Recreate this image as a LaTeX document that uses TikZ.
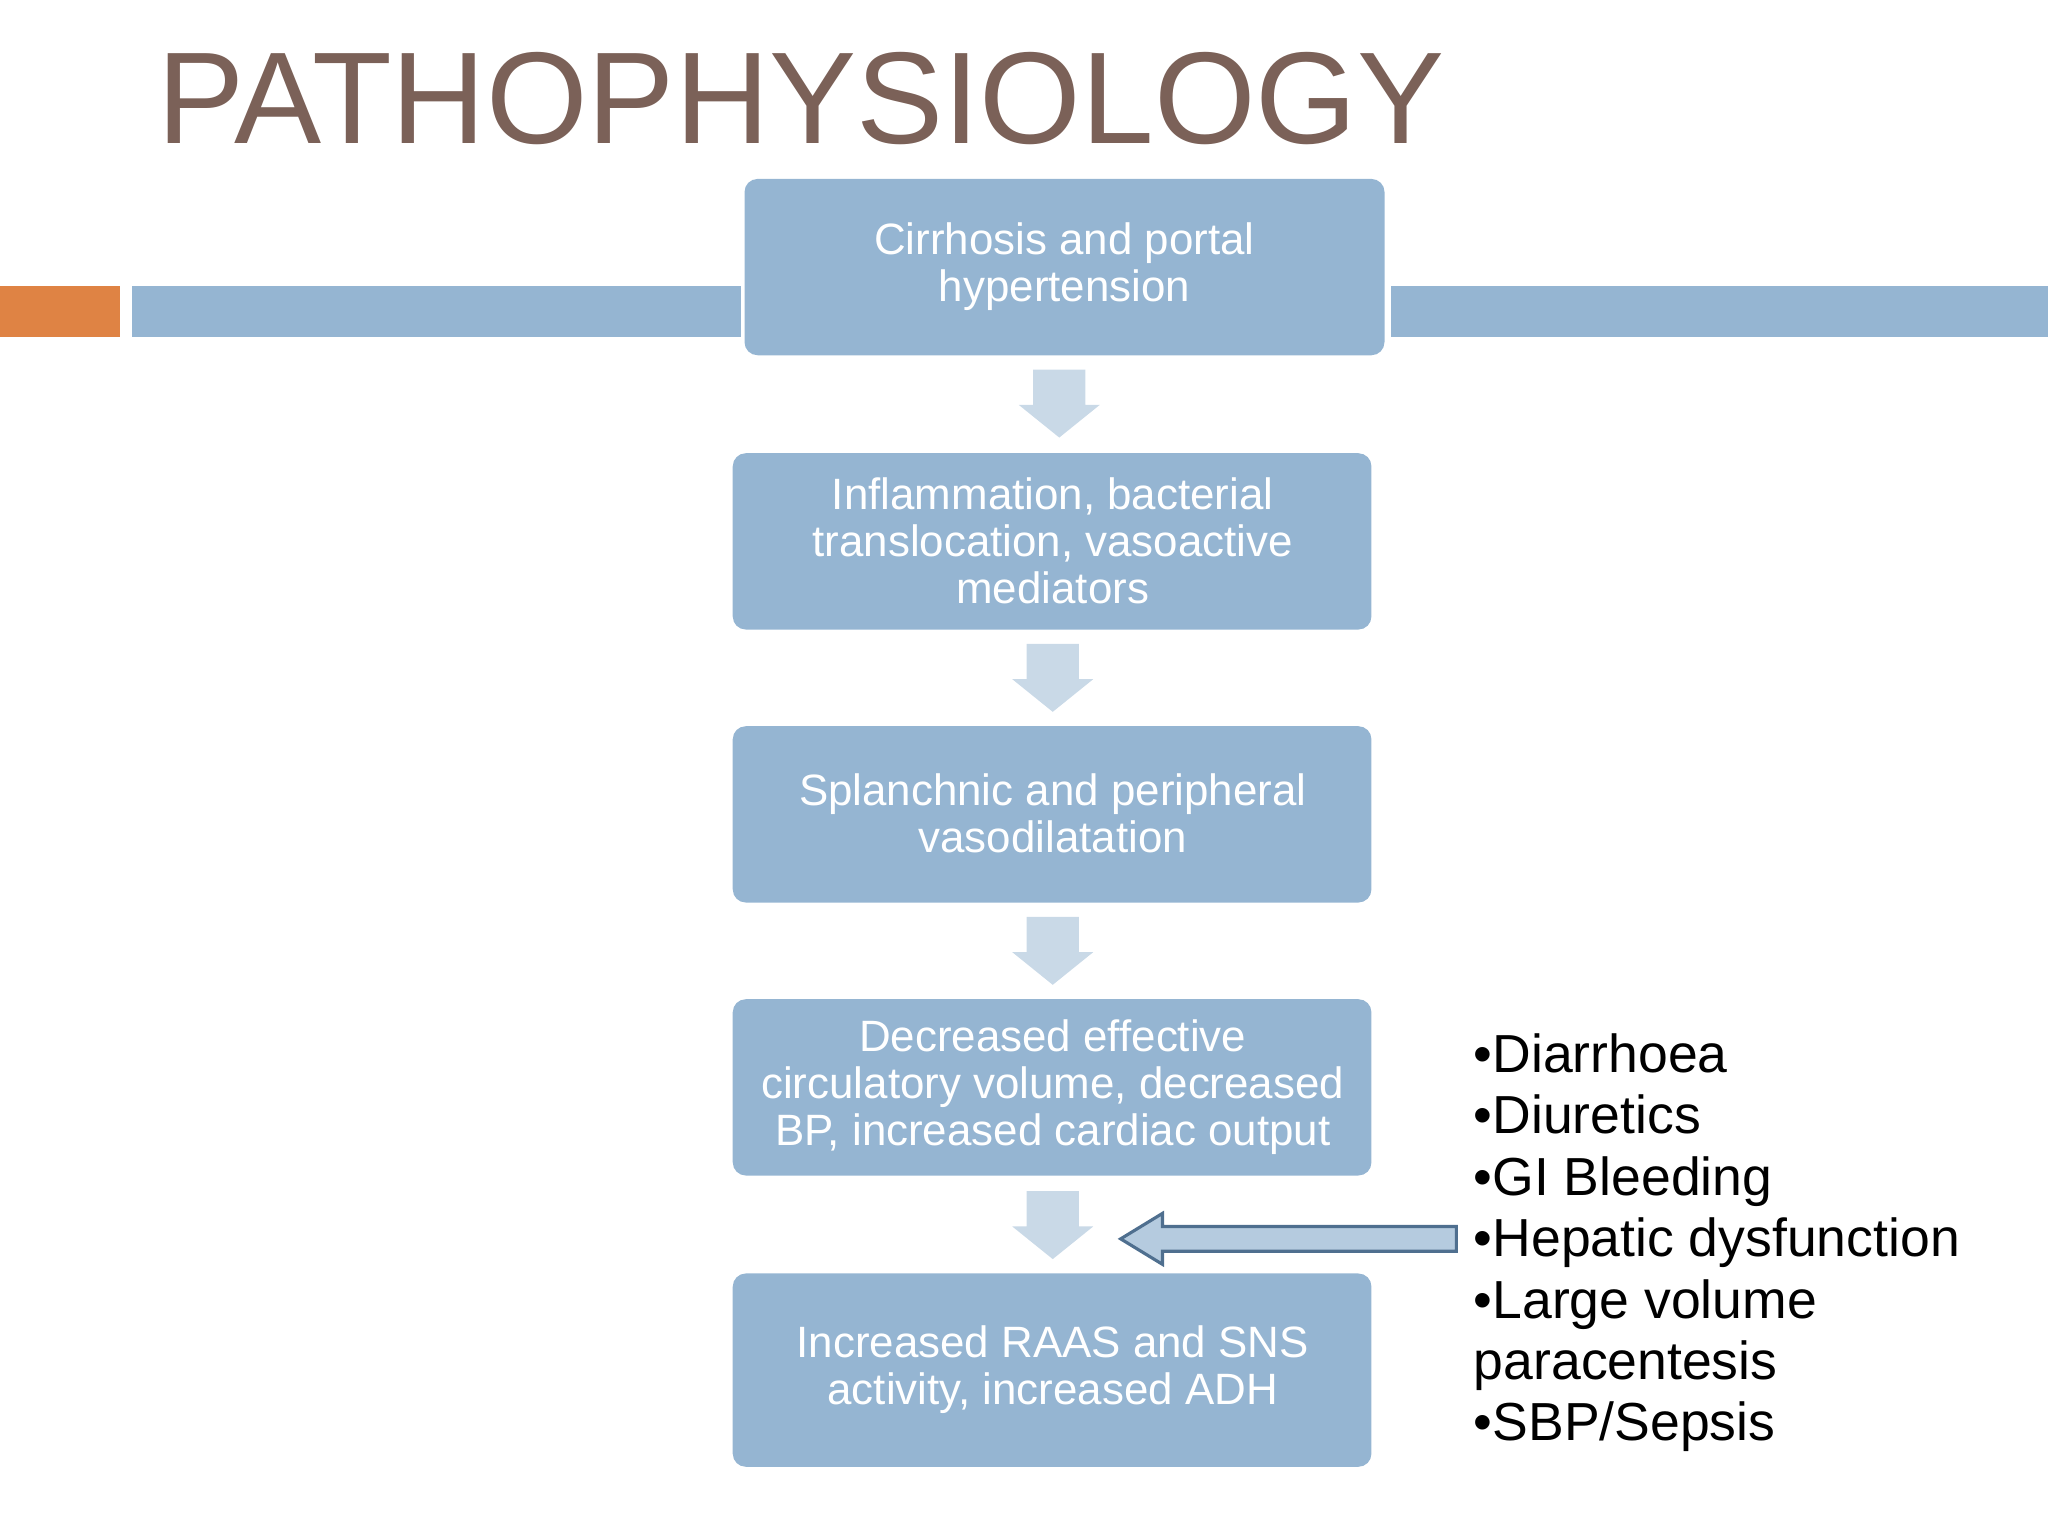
\documentclass[tikz,border=0pt]{standalone}
\usepackage{fontspec}
\setmainfont{Liberation Sans}
\definecolor{boxblue}{HTML}{95B5D2}
\definecolor{arrlight}{HTML}{C9D9E7}
\definecolor{arrdark}{HTML}{4F6F8F}
\definecolor{titlebrown}{HTML}{7B6158}
\definecolor{bandorange}{HTML}{DF8344}
\begin{document}
\begin{tikzpicture}[x=0.5pt,y=-0.5pt,
  flowbox/.style={fill=boxblue,rounded corners=5pt,text=white,font=\fontsize{16.8}{18}\selectfont,align=center,inner sep=0pt},
  downarr/.style={fill=arrlight,draw=none}]
\useasboundingbox (0,0) rectangle (1568,1176);
\node[anchor=base west,text=titlebrown,font=\fontsize{50}{50}\selectfont,inner sep=0pt] (title) at (120,110) {PATHOPHYSIOLOGY};
\fill[bandorange] (0,219) rectangle (92,258);
\fill[boxblue] (101,219) rectangle (567,258);
\fill[boxblue] (1065,219) rectangle (1568,258);
\path[flowbox] (570,137) rectangle (1060,272);
\node[flowbox,fill=none] (b1) at (815,204) {Cirrhosis and portal\\hypertension};
\path[flowbox] (561,347) rectangle (1050,482);
\node[flowbox,fill=none] (b2) at (806,414) {Inflammation, bacterial\\translocation, vasoactive\\mediators};
\path[flowbox] (561,556) rectangle (1050,691);
\node[flowbox,fill=none] (b3) at (806,623) {Splanchnic and peripheral\\vasodilatation};
\path[flowbox] (561,765) rectangle (1050,900);
\node[flowbox,fill=none] (b4) at (806,832) {Decreased effective\\circulatory volume, decreased\\BP, increased cardiac output};
\path[flowbox] (561,975) rectangle (1050,1123);
\node[flowbox,fill=none] (b5) at (806,1049) {Increased RAAS and SNS\\activity, increased ADH};
% down arrows
\foreach \cx/\ty in {811/283, 806/493, 806/702, 806/912}{
  \fill[downarr] (\cx-20,\ty) -- (\cx+20,\ty) -- (\cx+20,\ty+27) -- (\cx+31,\ty+27) -- (\cx,\ty+52) -- (\cx-31,\ty+27) -- (\cx-20,\ty+27) -- cycle;
}
% left arrow
\draw[fill=boxblue!70!white,draw=arrdark,line width=1.2pt] (1115,939) -- (1115,958) -- (890,958) -- (890,968) -- (858,948.5) -- (890,929) -- (890,939) -- cycle;
\node[anchor=north west,align=left,font=\fontsize{20.5}{23.5}\selectfont,inner sep=0pt] (list) at (1128,791) {•Diarrhoea\\•Diuretics\\•GI Bleeding\\•Hepatic dysfunction\\•Large volume\\paracentesis\\•SBP/Sepsis};
\end{tikzpicture}
\end{document}
